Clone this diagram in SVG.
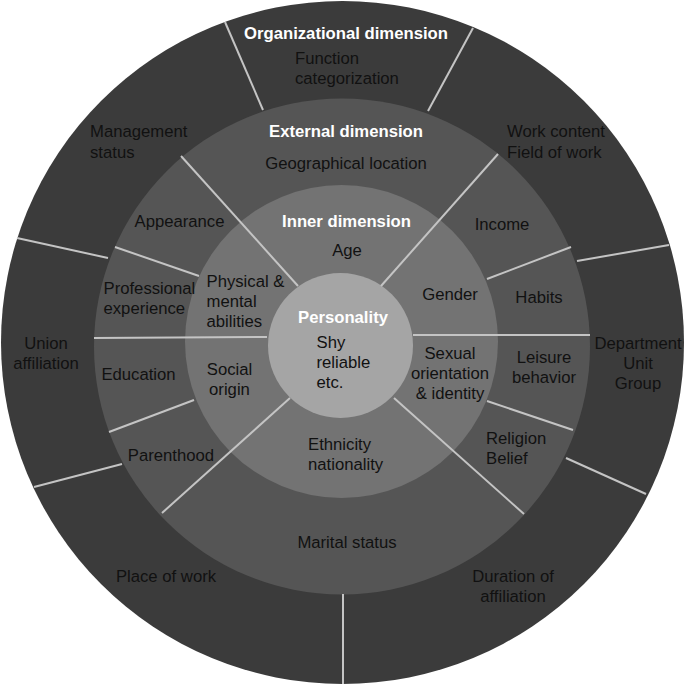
<svg xmlns="http://www.w3.org/2000/svg" width="685" height="685" viewBox="0 0 685 685">
<style>
.t{font-family:"Liberation Sans",Arial,sans-serif;font-size:16.7px;fill:#111}
.h{font-family:"Liberation Sans",Arial,sans-serif;font-size:16.7px;font-weight:bold;fill:#fff}
.m{text-anchor:middle}
.div{stroke:#c4c4c4;stroke-width:2;fill:none}
</style>
<rect width="685" height="685" fill="#fff"/>
<g id="rings">
<circle id="organizational" cx="342.5" cy="342.5" r="341.5" fill="#3b3b3b"/>
<circle id="external" cx="342" cy="346.5" r="248" fill="#555555"/>
<circle id="inner" cx="341.5" cy="341.5" r="156.5" fill="#737373"/>
<circle id="personality-core" cx="340.5" cy="345.5" r="72.5" fill="#a5a5a5"/>
</g>
<g id="connectors" class="div">
<line x1="225" y1="22" x2="263" y2="110"/>
<line x1="473" y1="28" x2="428" y2="111"/>
<line x1="17" y1="238" x2="108" y2="258"/>
<line x1="669" y1="245" x2="577" y2="261"/>
<line x1="34" y1="487" x2="122" y2="464"/>
<line x1="646" y1="494" x2="566" y2="458"/>
<line x1="343" y1="594" x2="343" y2="684"/>
<line x1="181" y1="156" x2="298" y2="286"/>
<line x1="498" y1="154" x2="381" y2="286"/>
<line x1="115" y1="247" x2="199" y2="276"/>
<line x1="94" y1="338" x2="267" y2="337"/>
<line x1="109" y1="432" x2="194" y2="400"/>
<line x1="162" y1="513" x2="290" y2="398"/>
<line x1="394" y1="398" x2="524" y2="514"/>
<line x1="413" y1="335" x2="590" y2="335"/>
<line x1="487" y1="279" x2="571" y2="247"/>
<line x1="487" y1="401" x2="573" y2="430"/>
</g>
<g id="organizational-dimension">
<text class="h m" x="346" y="39">Organizational dimension</text>
<text class="t" x="295"><tspan x="295" y="64">Function</tspan><tspan x="295" y="84">categorization</tspan></text>
</g>
<g id="management-status"><text class="t"><tspan x="90" y="137">Management</tspan><tspan x="90" y="157.5">status</tspan></text></g>
<g id="work-content"><text class="t"><tspan x="507" y="137">Work content</tspan><tspan x="507" y="157.5">Field of work</tspan></text></g>
<g id="union-affiliation"><text class="t m"><tspan x="46" y="348.5">Union</tspan><tspan x="46" y="368.5">affiliation</tspan></text></g>
<g id="department"><text class="t m"><tspan x="638" y="349">Department</tspan><tspan x="638" y="369">Unit</tspan><tspan x="638" y="389">Group</tspan></text></g>
<g id="place-of-work"><text class="t m" x="166" y="582">Place of work</text></g>
<g id="duration"><text class="t m"><tspan x="513" y="582">Duration of</tspan><tspan x="513" y="602">affiliation</tspan></text></g>
<g id="external-dimension">
<text class="h m" x="346" y="137">External dimension</text>
<text class="t m" x="346" y="169">Geographical location</text>
</g>
<g id="appearance"><text class="t m" x="179.5" y="227">Appearance</text></g>
<g id="income"><text class="t m" x="502" y="230">Income</text></g>
<g id="professional-experience"><text class="t"><tspan x="103.5" y="294">Professional</tspan><tspan x="103.5" y="314">experience</tspan></text></g>
<g id="habits"><text class="t m" x="539" y="303">Habits</text></g>
<g id="education"><text class="t m" x="138.5" y="380">Education</text></g>
<g id="leisure"><text class="t m"><tspan x="544" y="363">Leisure</tspan><tspan x="544" y="383">behavior</tspan></text></g>
<g id="parenthood"><text class="t m" x="171" y="461">Parenthood</text></g>
<g id="religion"><text class="t"><tspan x="486" y="444">Religion</tspan><tspan x="486" y="464">Belief</tspan></text></g>
<g id="marital-status"><text class="t m" x="347" y="548">Marital status</text></g>
<g id="inner-dimension">
<text class="h m" x="346.5" y="227">Inner dimension</text>
<text class="t m" x="347" y="256">Age</text>
</g>
<g id="physical"><text class="t"><tspan x="206.5" y="287">Physical &amp;</tspan><tspan x="206.5" y="307">mental</tspan><tspan x="206.5" y="327">abilities</tspan></text></g>
<g id="gender"><text class="t m" x="450" y="300">Gender</text></g>
<g id="social-origin"><text class="t m"><tspan x="229.5" y="375">Social</tspan><tspan x="229.5" y="395">origin</tspan></text></g>
<g id="sexual-orientation"><text class="t m"><tspan x="450" y="359">Sexual</tspan><tspan x="450" y="379">orientation</tspan><tspan x="450" y="399">&amp; identity</tspan></text></g>
<g id="ethnicity"><text class="t"><tspan x="308" y="449.5">Ethnicity</tspan><tspan x="308" y="469.5">nationality</tspan></text></g>
<g id="personality">
<text class="h m" x="343" y="323">Personality</text>
<text class="t"><tspan x="316.5" y="348">Shy</tspan><tspan x="316.5" y="368">reliable</tspan><tspan x="316.5" y="388">etc.</tspan></text>
</g>
</svg>
